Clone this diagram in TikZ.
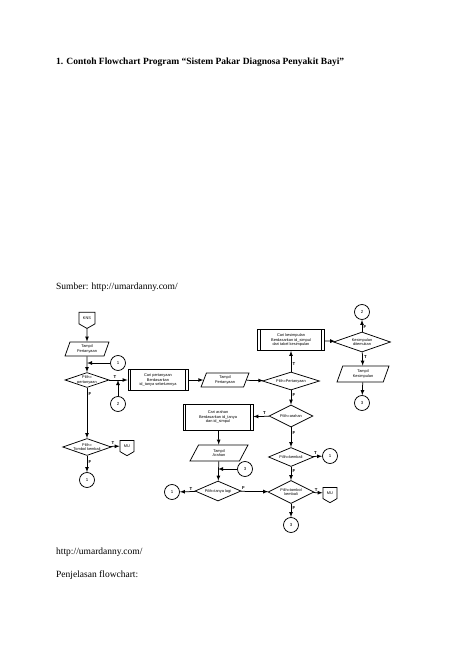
\documentclass[tikz,border=0pt]{standalone}
\usepackage{fontspec}
\setmainfont{Liberation Serif}
\setsansfont{Liberation Sans}
\usetikzlibrary{positioning, arrows, shapes.geometric, shapes.symbols}

\begin{document}
\begin{tikzpicture}[x=1pt, y=-1pt,
	isi/.style={font=\sffamily\fontsize{3.9}{4.3}\selectfont, align=center, inner sep=0pt, draw, line width=0.75pt},
	tampilbox/.style={isi, trapezium, trapezium left angle=70, trapezium right angle=110, trapezium stretches=true},
	pilihbox/.style={isi, diamond, aspect=3},
	prosesbox/.style={isi, rectangle, path picture={
		\draw[line width=0.75pt] ([xshift=2.8pt]path picture bounding box.north west) -- ([xshift=2.8pt]path picture bounding box.south west);
		\draw[line width=0.75pt] ([xshift=-2.8pt]path picture bounding box.north east) -- ([xshift=-2.8pt]path picture bounding box.south east);}},
	halbox/.style={isi, signal, signal to=south, signal pointer angle=120, minimum width=16pt, minimum height=14pt},
	konektor/.style={isi, circle, minimum size=15pt, font=\sffamily\fontsize{4.4}{4.4}\selectfont},
	garis/.style={-latex, line width=0.75pt},
	ket/.style={font=\sffamily\bfseries\fontsize{4.3}{4.3}\selectfont, inner sep=1.2pt},
	teks/.style={anchor=west, inner sep=0pt, font=\fontsize{9.5}{11}\selectfont}]

	\useasboundingbox (0,0) rectangle (474,670);

	%Teks halaman
	\node(judul) at (56,62) [teks]{\bfseries 1. Contoh Flowchart Program “Sistem Pakar Diagnosa Penyakit Bayi”};
	\node(sumber) at (56,287) [teks]{Sumber: http://umardanny.com/};
	\node(alamat) at (56,552) [teks]{http://umardanny.com/};
	\node(penjelasan) at (56,575) [teks]{Penjelasan flowchart:};

	%Blok kolom kiri
	\node(kns) at (87,318) [halbox]{KNS};
	\node(tampilTanya) at (87,349) [tampilbox, minimum width=44pt, minimum height=14pt]{Tampil\\Pertanyaan};
	\node(pilihTanya) at (87,380) [pilihbox, minimum width=44pt, minimum height=15pt]{Pilih=\\pertanyaan};
	\node(pilihTombol) at (87,447) [pilihbox, minimum width=46pt, minimum height=17pt]{Pilih=\\Tombol kembali};
	\node(mu1) at (127,446) [halbox, minimum width=14pt, minimum height=13pt]{MU};
	\node(satuA) at (118,363) [konektor]{1};
	\node(duaA) at (118,404) [konektor]{2};
	\node(satuB) at (87,480) [konektor]{1};

	%Blok baris tengah
	\node(cariTanya) at (158,380) [prosesbox, minimum width=60pt, minimum height=21pt]{Cari pertanyaan\\Berdasarkan\\id\_tanya sebelumnya};
	\node(tampilTanya2) at (225,380) [tampilbox, minimum width=48pt, minimum height=14pt]{Tampil\\Pertanyaan};
	\node(pilihPertanyaan) at (291,381) [pilihbox, minimum width=57pt, minimum height=18pt]{Pilih=Pertanyaan};
	\node(cariSimpul) at (291,340) [prosesbox, minimum width=67pt, minimum height=21pt]{Cari kesimpulan\\Berdasarkan id\_simpul\\dari tabel kesimpulan};

	%Blok kesimpulan
	\node(cekSimpul) at (362,342) [pilihbox, minimum width=57pt, minimum height=20pt]{Kesimpulan\\ditemukan};
	\node(duaB) at (362,312) [konektor]{2};
	\node(tampilSimpul) at (363,374) [tampilbox, minimum width=52pt, minimum height=16pt]{Tampil\\Kesimpulan};
	\node(tigaA) at (362,403) [konektor]{3};

	%Blok arahan
	\node(pilihArahan) at (291,416) [pilihbox, minimum width=44pt, minimum height=22pt]{Pilih=arahan};
	\node(cariArahan) at (218,417) [prosesbox, minimum width=70pt, minimum height=26pt]{Cari arahan\\Berdasarkan id\_tanya\\dan id\_simpul};
	\node(tampilArahan) at (219,453) [tampilbox, minimum width=58pt, minimum height=16pt]{Tampil\\Arahan};
	\node(pilihLagi) at (218,491) [pilihbox, minimum width=46pt, minimum height=20pt]{Pilih=tanya lagi};
	\node(tigaB) at (245,469) [konektor]{3};
	\node(satuC) at (172,492) [konektor]{1};
	\node(pilihKembali) at (291,457) [pilihbox, minimum width=45pt, minimum height=19pt]{Pilih=kembali};
	\node(satuD) at (330,456) [konektor]{1};
	\node(pilihTombol2) at (291,492) [pilihbox, minimum width=46pt, minimum height=23pt]{Pilih=tombol\\kembali};
	\node(mu2) at (330,493) [halbox, minimum width=14pt, minimum height=13pt]{MU};
	\node(tigaC) at (291,525) [konektor]{3};

	%Garis kolom kiri
	\draw[garis] (kns) -- (tampilTanya);
	\draw[garis] (tampilTanya) -- (pilihTanya);
	\draw[garis] (satuA) -- (satuA -| pilihTanya);
	\draw[garis] (pilihTanya) -- node[ket, above, pos=0.3]{T} (cariTanya);
	\draw[garis] (duaA) -- (duaA |- pilihTanya);
	\draw[garis] (pilihTanya) -- node[ket, right, pos=0.12]{F} (pilihTombol);
	\draw[garis] (pilihTombol) -- node[ket, above, pos=0.3]{T} (mu1);
	\draw[garis] (pilihTombol) -- node[ket, right, pos=0.35]{F} (satuB);

	%Garis baris tengah
	\draw[garis] (cariTanya) -- (tampilTanya2);
	\draw[garis] (tampilTanya2) -- (pilihPertanyaan);
	\draw[garis] (pilihPertanyaan) -- node[ket, right, pos=0.35]{T} (cariSimpul);
	\draw[garis] (cariSimpul) -- (cekSimpul);
	\draw[garis] (cekSimpul) -- node[ket, right, pos=0.4]{F} (duaB);
	\draw[garis] (cekSimpul) -- node[ket, right, pos=0.35]{T} (tampilSimpul);
	\draw[garis] (tampilSimpul) -- (tigaA);

	%Garis arahan
	\draw[garis] (pilihPertanyaan) -- node[ket, right, pos=0.3]{F} (pilihArahan);
	\draw[garis] (pilihArahan) -- node[ket, above, pos=0.3]{T} (cariArahan);
	\draw[garis] (pilihArahan) -- node[ket, right, pos=0.3]{F} (pilihKembali);
	\draw[garis] (pilihKembali) -- node[ket, above, pos=0.3]{T} (satuD);
	\draw[garis] (pilihKembali) -- node[ket, right, pos=0.3]{F} (pilihTombol2);
	\draw[garis] (pilihTombol2) -- node[ket, above, pos=0.3]{T} (mu2);
	\draw[garis] (pilihTombol2) -- node[ket, right, pos=0.3]{F} (tigaC);
	\draw[garis] (cariArahan) -- (tampilArahan);
	\draw[garis] (tampilArahan) -- (pilihLagi);
	\draw[garis] (tigaB) -- (tigaB -| pilihLagi);
	\draw[garis] (pilihLagi) -- node[ket, above, pos=0.3]{T} (satuC);
	\draw[garis] (pilihLagi) -- node[ket, above, pos=0.1]{F} (pilihTombol2);

\end{tikzpicture}
\end{document}
